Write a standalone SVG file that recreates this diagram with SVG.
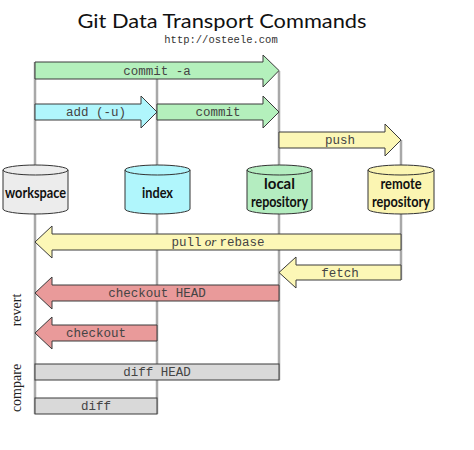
<svg xmlns="http://www.w3.org/2000/svg" width="474" height="450" viewBox="0 0 474 450">
<style>
.bg{fill:#ffffff}
.life{stroke:#a8a8a8;stroke-width:2.5;fill:none}
.arr{stroke:#3a3a3a;stroke-width:1;stroke-linejoin:miter}
.green{fill:#b4f0bc}
.cyan{fill:#b0f6fc}
.yellow{fill:#fcf7b6}
.red{fill:#e99a9a}
.gray{fill:#d9d9d9}
.lbl{font-family:"Liberation Mono","Courier New",monospace;font-size:12.5px;fill:#444;text-anchor:middle}
.it{font-family:"Liberation Serif","Times New Roman",serif;font-style:italic;font-size:13px;fill:#333}
.cyl{stroke:#333;stroke-width:1}
.node{font-family:"Lato","Noto Sans",sans-serif;font-weight:bold;font-size:15px;fill:#111;text-anchor:middle}
.side{font-family:"Liberation Serif","Times New Roman",serif;font-size:14px;fill:#222;text-anchor:middle}
</style>
<rect class="bg" x="0" y="0" width="474" height="450"/>
<text x="222" y="28" font-family="Lato,'Noto Sans',sans-serif" font-size="19" fill="#111" text-anchor="middle" textLength="289" lengthAdjust="spacingAndGlyphs">Git Data Transport Commands</text>
<text x="221" y="43" font-family="'Liberation Mono','Courier New',monospace" font-size="10.5" fill="#333" text-anchor="middle">http://osteele.com</text>

<g id="connectors">
  <g id="lifelines">
    <line class="life" x1="35" y1="62" x2="35" y2="414"/>
    <line class="life" x1="157" y1="71" x2="157" y2="414"/>
    <line class="life" x1="279" y1="71" x2="279" y2="380"/>
    <line class="life" x1="401" y1="140" x2="401" y2="280"/>
  </g>
  <g id="commit-a">
    <polygon class="arr green" points="35,62 263,62 263,55 279,70.5 263,87 263,79 35,79"/>
    <text class="lbl" x="157" y="75">commit -a</text>
  </g>
  <g id="add">
    <polygon class="arr cyan" points="35,104 141,104 141,96 157,112 141,128 141,120 35,120"/>
    <text class="lbl" x="96" y="116">add (-u)</text>
  </g>
  <g id="commit">
    <polygon class="arr green" points="157,104 263,104 263,96 279,112 263,128 263,120 157,120"/>
    <text class="lbl" x="218" y="116">commit</text>
  </g>
  <g id="push">
    <polygon class="arr yellow" points="279,132 385,132 385,124 401,140 385,156 385,148 279,148"/>
    <text class="lbl" x="340" y="144">push</text>
  </g>
  <g id="pull">
    <polygon class="arr yellow" points="401,234 52,234 52,226 35,242 52,258 52,250 401,250"/>
    <text class="lbl" x="218" y="246"><tspan>pull</tspan><tspan class="it"> or </tspan><tspan>rebase</tspan></text>
  </g>
  <g id="fetch">
    <polygon class="arr yellow" points="401,265 296,265 296,257 279,272.5 296,288 296,280 401,280"/>
    <text class="lbl" x="340" y="276.5">fetch</text>
  </g>
  <g id="checkout-head">
    <polygon class="arr red" points="279,285 52,285 52,277 35,293 52,309 52,301 279,301"/>
    <text class="lbl" x="157" y="297">checkout HEAD</text>
  </g>
  <g id="checkout">
    <polygon class="arr red" points="157,325 52,325 52,317 35,333 52,349 52,341 157,341"/>
    <text class="lbl" x="96" y="337">checkout</text>
  </g>
  <g id="diff-head">
    <rect class="arr gray" x="35" y="364" width="244" height="16"/>
    <text class="lbl" x="157" y="376">diff HEAD</text>
  </g>
  <g id="diff">
    <rect class="arr gray" x="35" y="398" width="122" height="16"/>
    <text class="lbl" x="96" y="410">diff</text>
  </g>
</g>

<g id="workspace">
  <path class="cyl" fill="#ececec" d="M3,170 A32.5,5 0 0 1 68,170 L68,209 A32.5,5 0 0 1 3,209 Z"/>
  <path class="cyl" fill="none" d="M3,170 A32.5,5 0 0 0 68,170"/>
  <text class="node" x="35.5" y="198" textLength="61" lengthAdjust="spacingAndGlyphs">workspace</text>
</g>
<g id="index">
  <path class="cyl" fill="#b0f6fc" d="M125,170 A32.5,5 0 0 1 190,170 L190,209 A32.5,5 0 0 1 125,209 Z"/>
  <path class="cyl" fill="none" d="M125,170 A32.5,5 0 0 0 190,170"/>
  <text class="node" x="157.5" y="198" textLength="31" lengthAdjust="spacingAndGlyphs">index</text>
</g>
<g id="local">
  <path class="cyl" fill="#b4edc0" d="M247,170 A32.5,5 0 0 1 312,170 L312,209 A32.5,5 0 0 1 247,209 Z"/>
  <path class="cyl" fill="none" d="M247,170 A32.5,5 0 0 0 312,170"/>
  <text class="node" x="279.5" y="189">local</text>
  <text class="node" x="279.5" y="207" textLength="57" lengthAdjust="spacingAndGlyphs">repository</text>
</g>
<g id="remote">
  <path class="cyl" fill="#fbf5b2" d="M368,170 A33,5 0 0 1 434,170 L434,209 A33,5 0 0 1 368,209 Z"/>
  <path class="cyl" fill="none" d="M368,170 A33,5 0 0 0 434,170"/>
  <text class="node" x="401" y="189" textLength="41" lengthAdjust="spacingAndGlyphs">remote</text>
  <text class="node" x="401" y="207" textLength="58" lengthAdjust="spacingAndGlyphs">repository</text>
</g>

<text class="side" transform="translate(21,310) rotate(-90)">revert</text>
<text class="side" transform="translate(21,388) rotate(-90)">compare</text>
</svg>
